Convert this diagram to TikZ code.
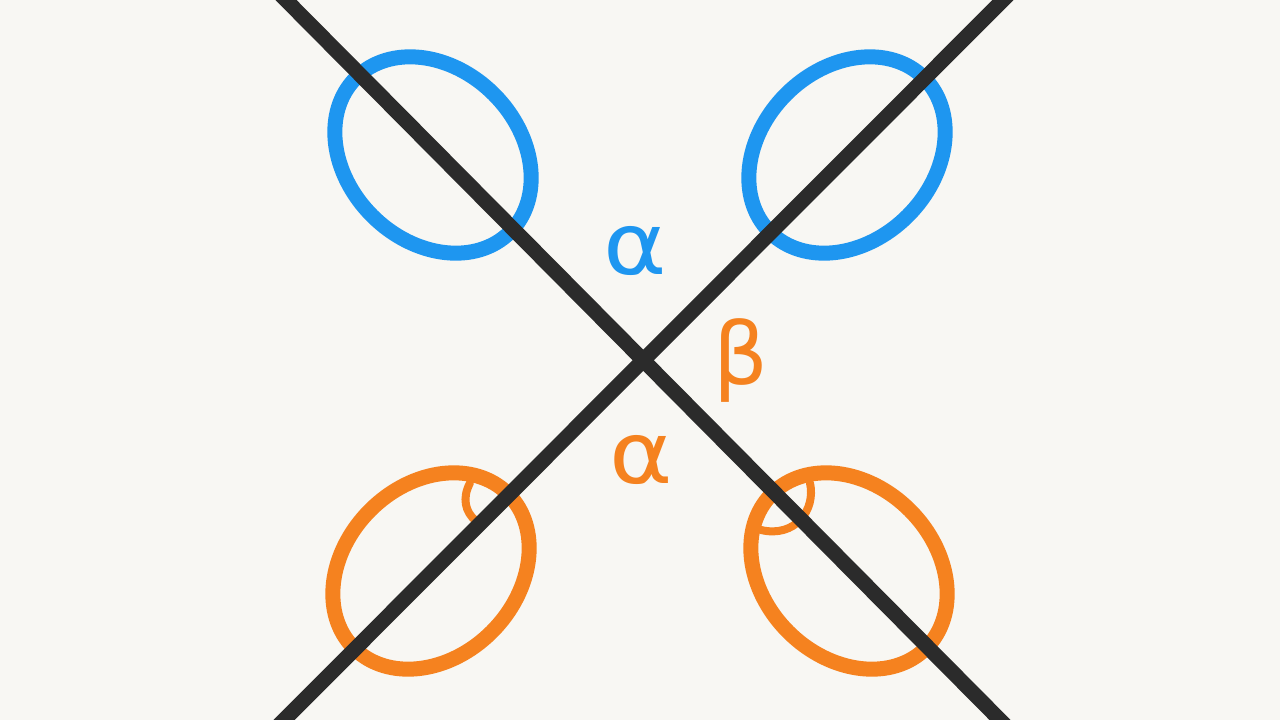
\documentclass[tikz,border=0pt]{standalone}
\usepackage{fontspec}
\newfontfamily\greekfont{DejaVu Sans}
\definecolor{bgc}{HTML}{F8F7F3}
\definecolor{loopblue}{HTML}{1E96F0}
\definecolor{looporange}{HTML}{F5821F}
\definecolor{linedark}{HTML}{2B2B2B}
\tikzset{
  bluering/.style={draw=loopblue, line width=15pt},
  orangering/.style={draw=looporange, line width=15pt},
  anglemark/.style={draw=looporange, line width=8pt, line cap=round},
  crossline/.style={draw=linedark, line width=15pt},
  greeklabel/.style={font=\greekfont\fontsize{86}{86}\selectfont, inner sep=0pt},
  alphalabel/.style={greeklabel, xscale=1.12}
}
\begin{document}
\begin{tikzpicture}[x=1pt,y=-1pt]
\fill[bgc] (0,0) rectangle (1280,720);
\useasboundingbox (0,0) rectangle (1280,720);
% loops
\draw[bluering, shift={(433,155)}, rotate=-45] (0,0) ellipse [x radius=109, y radius=86];
\draw[bluering, shift={(847,155)}, rotate=45] (0,0) ellipse [x radius=109, y radius=86];
\draw[orangering, shift={(431,571)}, rotate=45] (0,0) ellipse [x radius=109, y radius=86];
\draw[orangering, shift={(849,571)}, rotate=-45] (0,0) ellipse [x radius=109, y radius=86];
% angle marks
\draw[anglemark] (470,483) .. controls (462,498) and (465,512) .. (476,521);
\draw[anglemark] (810,483) .. controls (816,510) and (795,538) .. (761,530);
% crossing lines
\coordinate (l1a) at (281,-5);
\coordinate (l1b) at (1005,725);
\coordinate (l2a) at (1008,-5);
\coordinate (l2b) at (279,725);
\draw[crossline] (l1a) -- (l1b);
\draw[crossline] (l2a) -- (l2b);
% labels
\node[alphalabel, text=loopblue] (alphaTop) at (635,251) {α};
\node[greeklabel, text=looporange] (beta) at (741,360) {β};
\node[alphalabel, text=looporange] (alphaBottom) at (641,460) {α};
\end{tikzpicture}
\end{document}
